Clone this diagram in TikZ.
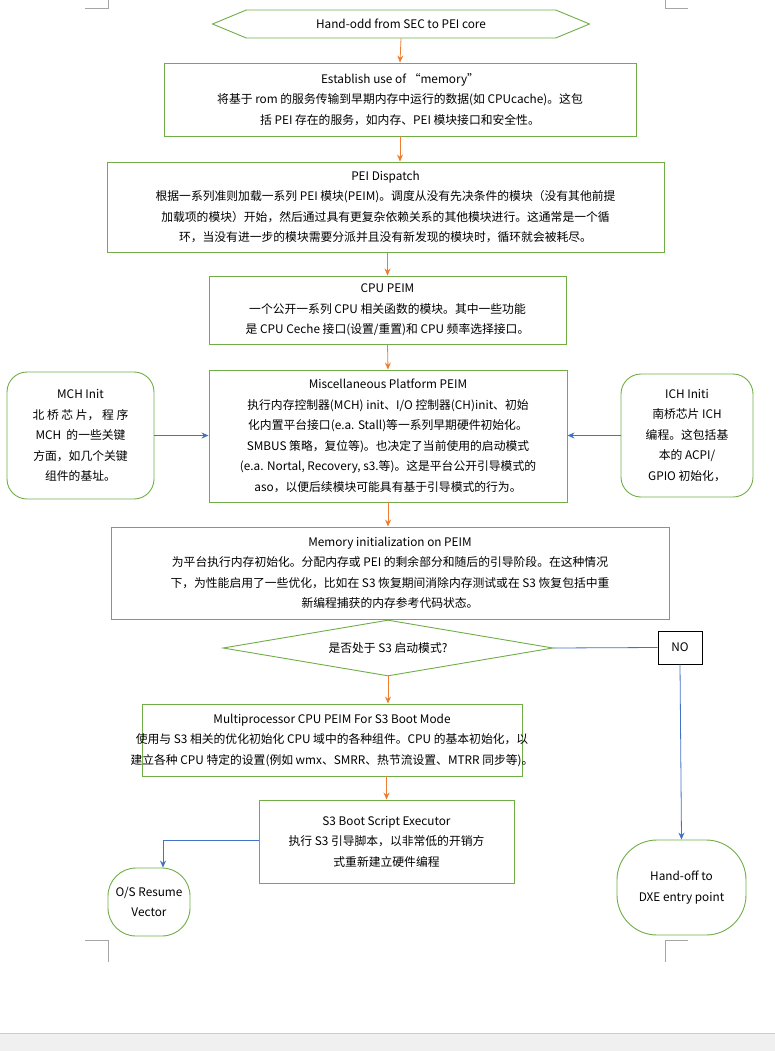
\documentclass[tikz,border=0pt]{standalone}
\usepackage{fontspec}
\setmainfont{Noto Sans CJK SC}
\usetikzlibrary{shapes.geometric,shapes.symbols,arrows.meta}
\definecolor{gbord}{HTML}{70AD47}
\definecolor{oarr}{HTML}{ED7D31}
\definecolor{barr}{HTML}{4472C4}
\begin{document}
\begin{tikzpicture}[x=1pt,y=-1pt,
  txt/.style={font=\fontsize{11.8}{20.5}\selectfont, align=center, inner sep=0pt},
  gbox/.style={draw=gbord, line width=0.9pt, rectangle},
  oa/.style={draw=oarr, line width=0.8pt, -{Stealth[length=7pt,width=6pt]}},
  ba/.style={draw=barr, line width=0.8pt, -{Stealth[length=7pt,width=6pt]}},
  bl/.style={draw=barr, line width=0.8pt},
  crop/.style={draw=gray!70, line width=0.6pt}]
\useasboundingbox (0,0) rectangle (775,1051);
\fill[gray!12] (0,1033) rectangle (775,1051);
\draw[gray!40] (0,1033) -- (775,1033);
% crop marks
\draw[crop] (85,8) -- (108,8) -- (108,0);
\draw[crop] (688,8) -- (665,8) -- (665,0);
\draw[crop] (85,940) -- (108,940) -- (108,962);
\draw[crop] (688,940) -- (665,940) -- (665,962);
% nodes
\node[draw=gbord, line width=0.9pt, signal, signal to=east and west, signal pointer angle=45, minimum width=377pt, minimum height=28pt, inner sep=0pt, txt] (hex) at (401,24) {Hand-odd from SEC to PEI core};
\node[gbox, minimum width=472pt, minimum height=73pt] (b1) at (400,99.5) {};
\node[txt] at (b1.center) {Establish use of “memory”\\将基于 rom 的服务传输到早期内存中运行的数据(如 CPUcache)。这包\\括 PEI 存在的服务，如内存、PEI 模块接口和安全性。};
\node[gbox, minimum width=557pt, minimum height=90pt] (b2) at (385.5,207) {};
\node[txt] at (b2.center) {PEI Dispatch\\根据一系列准则加载一系列 PEI 模块(PEIM)。调度从没有先决条件的模块（没有其他前提\\加载项的模块）开始，然后通过具有更复杂依赖关系的其他模块进行。这通常是一个循\\环，当没有进一步的模块需要分派并且没有新发现的模块时，循环就会被耗尽。};
\node[gbox, minimum width=357pt, minimum height=68pt] (b3) at (387.5,310) {};
\node[txt] at (b3.center) {CPU PEIM\\一个公开一系列 CPU 相关函数的模块。其中一些功能\\是 CPU Ceche 接口(设置/重置)和 CPU 频率选择接口。};
\node[gbox, minimum width=358pt, minimum height=132pt] (b4) at (388,436) {};
\node[txt] at (b4.center) {Miscellaneous Platform PEIM\\执行内存控制器(MCH) init、I/O 控制器(CH)init、初始\\化内置平台接口(e.a. Stall)等一系列早期硬件初始化。\\SMBUS 策略，复位等)。也决定了当前使用的启动模式\\(e.a. Nortal, Recovery, s3.等)。这是平台公开引导模式的\\aso，以便后续模块可能具有基于引导模式的行为。};
\node[gbox, rounded corners=20pt, minimum width=147pt, minimum height=127pt] (mch) at (80.5,435.5) {};
\node[txt] at (mch.center) {MCH Init\\北 桥 芯 片， 程 序\\MCH\ \ 的一些关键\\方面，如几个关键\\组件的基址。};
\node[gbox, rounded corners=20pt, minimum width=132pt, minimum height=123pt] (ich) at (687,435.5) {};
\node[txt] at (ich.center) {ICH Initi\\南桥芯片 ICH\\编程。这包括基\\本的 ACPI/\\GPIO 初始化，};
\node[gbox, minimum width=558pt, minimum height=92pt] (b5) at (390,573) {};
\node[txt] at (b5.center) {Memory initialization on PEIM\\为平台执行内存初始化。分配内存或 PEI 的剩余部分和随后的引导阶段。在这种情况\\下，为性能启用了一些优化，比如在 S3 恢复期间消除内存测试或在 S3 恢复包括中重\\新编程捕获的内存参考代码状态。};
\node[draw=gbord, line width=0.9pt, diamond, aspect=5.9, minimum width=330pt, minimum height=56pt, inner sep=0pt, txt] (dia) at (388,648) {是否处于 S3 启动模式?};
\node[draw=black, line width=0.8pt, minimum width=44pt, minimum height=33pt, inner sep=0pt, txt] (no) at (680,647.5) {NO};
\node[gbox, minimum width=380pt, minimum height=72pt] (b6) at (332,740) {};
\node[txt] at (b6.center) {Multiprocessor CPU PEIM For S3 Boot Mode\\使用与 S3 相关的优化初始化 CPU 域中的各种组件。CPU 的基本初始化，以\\建立各种 CPU 特定的设置(例如 wmx、SMRR、热节流设置、MTRR 同步等)。};
\node[gbox, minimum width=255pt, minimum height=83pt] (b7) at (386.5,841.5) {};
\node[txt] at (b7.center) {S3 Boot Script Executor\\执行 S3 引导脚本，以非常低的开销方\\式重新建立硬件编程};
\node[gbox, rounded corners=28pt, minimum width=82pt, minimum height=68pt] (os) at (149,902) {};
\node[txt] at (os.center) {O/S Resume\\Vector};
\node[gbox, rounded corners=40pt, minimum width=129pt, minimum height=95pt] (dxe) at (681.5,887.5) {};
\node[txt] at (dxe.center) {Hand-off to\\DXE entry point};
% connectors
\draw[oa] (hex.south) -- (b1.north);
\draw[oa] (b1.south) -- (b1.south |- b2.north);
\draw[oa] (b2.south -| b3.north) -- (b3.north);
\draw[oa] (b3.south) -- (b4.north);
\draw[oa] (b4.south) -- (b4.south |- b5.north);
\draw[oa] (dia.south) -- (dia.south |- b6.north);
\draw[oa] (b6.south -| b7.north) -- (b7.north);
\draw[ba] (mch.east) -- (mch.east -| b4.west);
\draw[ba] (ich.west) -- (ich.west -| b4.east);
\draw[bl] (dia.east) -- (no.west);
\draw[ba] (no.south) -- (dxe.north);
\coordinate (bend) at (163,840);
\draw[ba] (b7.west |- bend) -- (bend) -- (os.north -| bend);
\end{tikzpicture}
\end{document}
